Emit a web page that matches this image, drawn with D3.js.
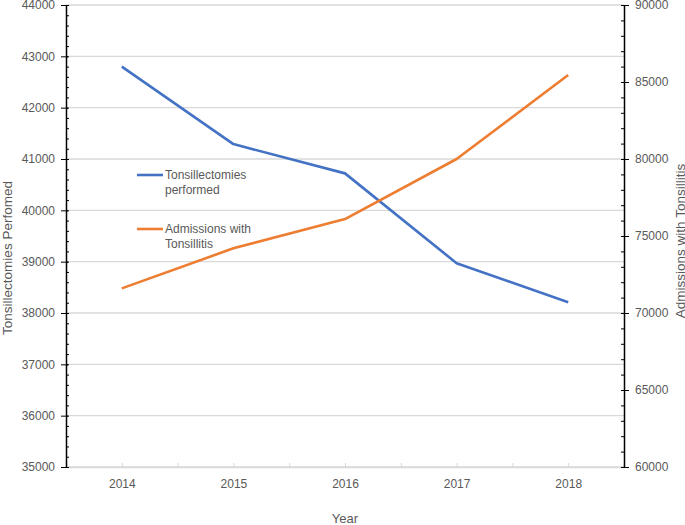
<!DOCTYPE html>
<html>
<head>
<meta charset="utf-8">
<script src="https://cdn.jsdelivr.net/npm/d3@7"></script>
<style>
  body { margin: 0; background: #fff; }
  text { font-family: "Liberation Sans", Arial, sans-serif; fill: #595959; }
</style>
</head>
<body>
<svg id="chart" width="685" height="525"></svg>
<script>
// data
const years = ["2014", "2015", "2016", "2017", "2018"];
const tonsillectomies = [42800, 41290, 40720, 38970, 38210];
const admissions = [71600, 74200, 76100, 80000, 85450];
const leftTicks = [35000, 36000, 37000, 38000, 39000, 40000, 41000, 42000, 43000, 44000];
const rightTicks = [60000, 65000, 70000, 75000, 80000, 85000, 90000];

const width = 685, height = 525;
const margin = { top: 5, right: 61, bottom: 58, left: 66 };
const innerW = width - margin.left - margin.right;
const innerH = height - margin.top - margin.bottom;

const svg = d3.select("#chart");
const g = svg.append("g").attr("transform", `translate(${margin.left},${margin.top})`);

const x = d3.scalePoint().domain(years).range([0, innerW]).padding(0.5);
// index scale, used only for the small ticks between and on the categories
const xi = d3.scaleLinear().domain([-0.5, years.length - 0.5]).range([0, innerW]);
const yL = d3.scaleLinear().domain([35000, 44000]).range([innerH, 0]);
const yR = d3.scaleLinear().domain([60000, 90000]).range([innerH, 0]);

// gridlines
g.append("g")
  .selectAll("line")
  .data(leftTicks)
  .join("line")
  .attr("x1", 0).attr("x2", innerW)
  .attr("y1", d => yL(d)).attr("y2", d => yL(d))
  .attr("stroke", "#d9d9d9")
  .attr("stroke-width", 1.3);

// x axis: small upward ticks every half category
const xTickAxis = g.append("g")
  .attr("transform", `translate(0,${innerH})`)
  .call(d3.axisBottom(xi).tickValues(d3.range(-0.5, years.length, 0.5)).tickSize(-4).tickFormat(""));
xTickAxis.select(".domain").attr("stroke", "#d9d9d9").attr("stroke-width", 1.3);
xTickAxis.selectAll(".tick line").attr("stroke", "#d9d9d9");

const xLab = g.append("g")
  .attr("transform", `translate(0,${innerH})`)
  .call(d3.axisBottom(x).tickSize(0).tickPadding(12));
xLab.select(".domain").remove();
xLab.selectAll("text").style("font-size", "12px").attr("fill", "#595959");

// left axis
const leftMinor = g.append("g")
  .call(d3.axisRight(yL).tickValues(d3.range(35000, 44001, 200)).tickSize(3).tickFormat(""));
leftMinor.select(".domain").remove();
leftMinor.selectAll(".tick line").attr("stroke", "#000");

const leftAxis = g.append("g")
  .call(d3.axisLeft(yL).tickValues(leftTicks).tickSize(5).tickSizeOuter(0).tickPadding(6).tickFormat(d3.format("d")));
leftAxis.select(".domain").attr("stroke", "#000").attr("stroke-width", 1.5);
leftAxis.selectAll(".tick line").attr("stroke", "#000").attr("x2", -5).attr("x1", 2);
leftAxis.selectAll("text").style("font-size", "12px").attr("fill", "#595959");

// right axis
const rightMinor = g.append("g")
  .attr("transform", `translate(${innerW},0)`)
  .call(d3.axisLeft(yR).tickValues(d3.range(60000, 90001, 1000)).tickSize(3).tickFormat(""));
rightMinor.select(".domain").remove();
rightMinor.selectAll(".tick line").attr("stroke", "#000");

const rightAxis = g.append("g")
  .attr("transform", `translate(${innerW},0)`)
  .call(d3.axisRight(yR).tickValues(rightTicks).tickSize(5).tickSizeOuter(0).tickPadding(6).tickFormat(d3.format("d")));
rightAxis.select(".domain").attr("stroke", "#000").attr("stroke-width", 1.5);
rightAxis.selectAll(".tick line").attr("stroke", "#000").attr("x1", -2).attr("x2", 5);
rightAxis.selectAll("text").style("font-size", "12px").attr("fill", "#595959");

// lines
const lineL = d3.line().x((d, i) => x(years[i])).y(d => yL(d));
const lineR = d3.line().x((d, i) => x(years[i])).y(d => yR(d));

g.append("path")
  .datum(tonsillectomies)
  .attr("fill", "none")
  .attr("stroke", "#4472C4")
  .attr("stroke-width", 2.6)
  .attr("stroke-linejoin", "round")
  .attr("d", lineL);

g.append("path")
  .datum(admissions)
  .attr("fill", "none")
  .attr("stroke", "#ED7D31")
  .attr("stroke-width", 2.6)
  .attr("stroke-linejoin", "round")
  .attr("d", lineR);

// legend
const legend = [
  { color: "#4472C4", lines: ["Tonsillectomies", "performed"], y: 170 },
  { color: "#ED7D31", lines: ["Admissions with", "Tonsillitis"], y: 224 }
];
legend.forEach(item => {
  svg.append("line")
    .attr("x1", 137).attr("x2", 163)
    .attr("y1", item.y + 5).attr("y2", item.y + 5)
    .attr("stroke", item.color)
    .attr("stroke-width", 2.6);
  const t = svg.append("text")
    .attr("x", 165).attr("y", item.y + 9)
    .style("font-size", "12px");
  item.lines.forEach((s, i) => {
    t.append("tspan").attr("x", 165).attr("dy", i === 0 ? 0 : 15).text(s);
  });
});

// axis titles
svg.append("text")
  .attr("x", margin.left + innerW / 2 - 0)
  .attr("y", 523)
  .attr("text-anchor", "middle")
  .style("font-size", "13px")
  .text("Year");

svg.append("text")
  .attr("transform", "translate(7,258) rotate(-90)")
  .attr("dy", "0.35em")
  .attr("text-anchor", "middle")
  .style("font-size", "13.5px")
  .text("Tonsillectomies Perfomed");

svg.append("text")
  .attr("transform", "translate(680,241) rotate(-90)")
  .attr("dy", "0.35em")
  .attr("text-anchor", "middle")
  .style("font-size", "13.5px")
  .text("Admissions with Tonsillitis");
</script>
</body>
</html>
